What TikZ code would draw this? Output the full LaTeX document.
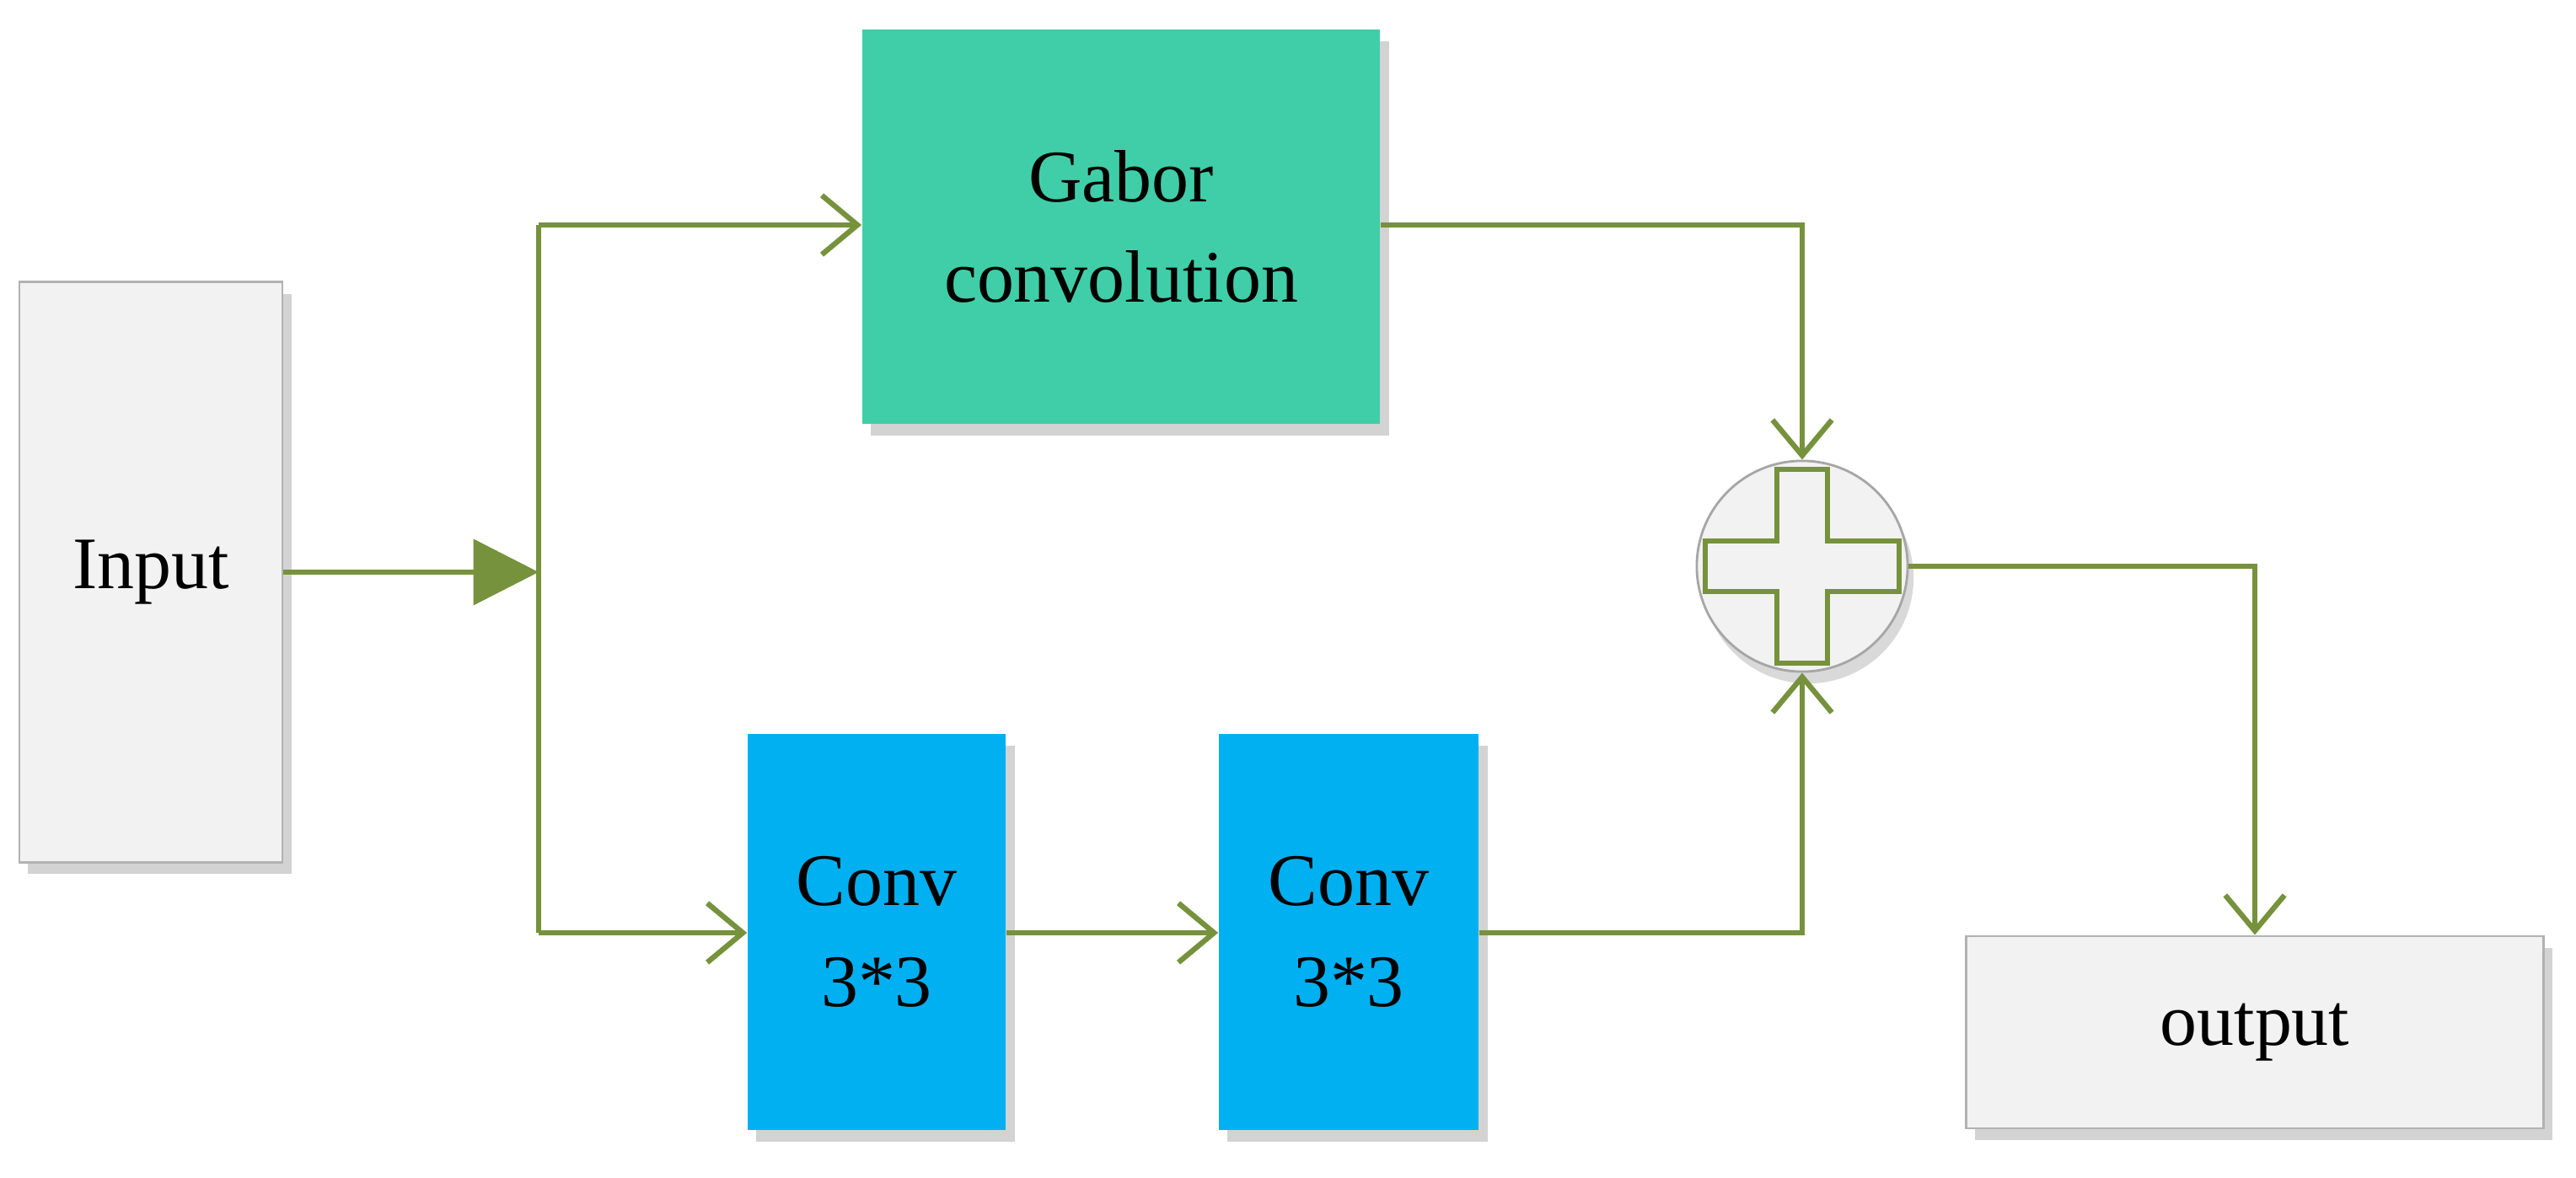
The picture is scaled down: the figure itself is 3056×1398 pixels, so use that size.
\documentclass[tikz,border=0pt]{standalone}
\usepackage{fontspec}
\setmainfont{Liberation Serif}
\usetikzlibrary{arrows.meta,shadows,calc}
\definecolor{lg}{RGB}{118,146,60}
\definecolor{gab}{RGB}{64,206,168}
\definecolor{cv}{RGB}{0,176,240}
\definecolor{gb}{RGB}{242,242,242}
\begin{document}
\begin{tikzpicture}[x=0.01cm,y=0.01cm,
  box/.style={draw=none,minimum width=#1,inner sep=0pt,align=center,font=\fontsize{25}{34}\selectfont,drop shadow={shadow xshift=3pt,shadow yshift=-4pt,opacity=0.35}},
  gray/.style={fill=gb,draw=gray!60,line width=0.8pt},
  ln/.style={draw=lg,line width=1.8pt},
  oa/.style={ln,-{Straight Barb[length=12pt,width=20pt,line width=1.8pt]}}]
\useasboundingbox (0,0) rectangle (3056,-1398);
\node[box=3.12cm,gray,minimum height=6.88cm] (in) at (179,-679) {Input};
\node[box=6.14cm,fill=gab,minimum height=4.68cm] (gab) at (1330,-269) {Gabor\\convolution};
\node[box=3.06cm,fill=cv,minimum height=4.7cm] (c1) at (1040,-1106) {Conv\\3*3};
\node[box=3.08cm,fill=cv,minimum height=4.7cm] (c2) at (1600,-1106) {Conv\\3*3};
\node[box=6.84cm,gray,minimum height=2.28cm] (out) at (2675,-1225) {output};
\node[circle,minimum size=2.5cm,inner sep=0pt,fill=gb,draw=gray!70,line width=0.8pt,drop shadow={shadow xshift=2pt,shadow yshift=-4pt,opacity=0.3}] (plus) at (2138,-672) {};
\draw[lg,line width=1.8pt,fill=gb] ($(plus)+(-30,115)$) -- ++(60,0) -- ++(0,-85) -- ++(85,0) -- ++(0,-60) -- ++(-85,0) -- ++(0,-85) -- ++(-60,0) -- ++(0,85) -- ++(-85,0) -- ++(0,60) -- ++(85,0) -- cycle;
\coordinate (br) at (639,-679);
\coordinate (tp) at (639,-267);
\coordinate (bt) at (639,-1107);
\draw[ln,-{Triangle[length=22pt,width=22pt]}] (in.east) -- (br);
\draw[ln] (tp) -- (bt);
\draw[oa] (tp) -- (gab.west |- tp);
\draw[oa] (bt) -- (c1.west |- bt);
\draw[oa] (c1.east |- bt) -- (c2.west |- bt);
\draw[oa] (gab.east |- tp) -| (plus.north);
\draw[oa] (c2.east |- bt) -| (plus.south);
\draw[oa] (plus.east) -| (out.north);
\end{tikzpicture}
\end{document}
